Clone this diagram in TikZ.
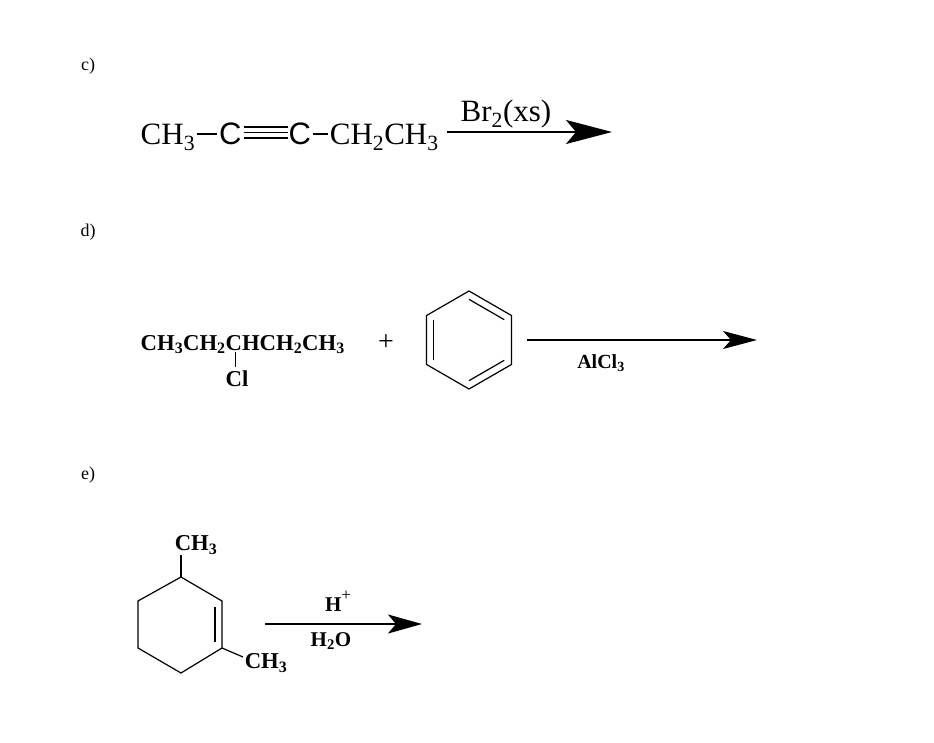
\documentclass[tikz,border=0pt]{standalone}
\usepackage{fontspec}
\setmainfont{Liberation Serif}
\newfontfamily\arial{Liberation Sans}
\usetikzlibrary{arrows.meta,calc}
\newcommand{\lsub}[1]{\textsubscript{#1}}
\begin{document}
\begin{tikzpicture}[x=1pt,y=-1pt,line width=1.4pt,
  lbl/.style={inner sep=0pt,font=\fontsize{18}{20}\selectfont},
  txc/.style={inner sep=0pt,font=\fontsize{31}{32}\selectfont},
  txb/.style={inner sep=0pt,font=\fontsize{22.7}{24}\selectfont\bfseries}]
\useasboundingbox (0,0) rectangle (934,743);
\node[lbl] (lc) at (88,66) {c)};
\node[lbl] (ld) at (88,232) {d)};
\node[lbl] (le) at (88,475) {e)};
% c
\node[txc,anchor=base west] (cm) at (140,145) {CH\lsub{3}\kern2pt\raisebox{0.33em}{\rule{20pt}{1.5pt}}\kern2pt{\arial C}\kern2pt\raisebox{0.1em}{\rule[3pt]{44pt}{1.4pt}\kern-44pt\rule[8.5pt]{44pt}{1.4pt}\kern-44pt\rule[14pt]{44pt}{1.4pt}}\kern1pt{\arial C}\kern2pt\raisebox{0.33em}{\rule{15pt}{1.5pt}}\kern2pt CH\lsub{2}CH\lsub{3}};
\coordinate (c1) at (447,132); \coordinate (c2) at (612,132);
\draw[line width=2.2pt,-{Stealth[length=46pt,width=24pt,inset=10pt]}] (c1) -- (c2);
\node[txc,anchor=base] (br) at (506,122) {Br\lsub{2}(xs)};
% d
\node[txb,anchor=base west] (dm) at (140,350) {CH\lsub{3}CH\lsub{2}CHCH\lsub{2}CH\lsub{3}};
\node[txb] (cl) at (237,379) {Cl};
\draw[line width=1pt] (235,352) -- (235,367);
\node[inner sep=0pt,font=\fontsize{28}{28}\selectfont] (plus) at (386,343) {+};
\foreach \i in {0,...,5} \coordinate (b\i) at ({469+49*cos(90+60*\i)},{340-49*sin(90+60*\i)});
\coordinate (bc) at (469,340);
\draw[line width=1.2pt] (b0)--(b1)--(b2)--(b3)--(b4)--(b5)--cycle;
\draw[line width=1.2pt] ($(bc)!0.83!(b1)$) -- ($(bc)!0.83!(b2)$);
\draw[line width=1.2pt] ($(bc)!0.83!(b3)$) -- ($(bc)!0.83!(b4)$);
\draw[line width=1.2pt] ($(bc)!0.83!(b5)$) -- ($(bc)!0.83!(b0)$);
\coordinate (d1) at (527,340); \coordinate (d2) at (757,340);
\draw[line width=1.6pt,-{Stealth[length=34pt,width=18pt,inset=8pt]}] (d1) -- (d2);
\node[txb,font=\fontsize{20}{20}\selectfont\bfseries] (al) at (601,363) {AlCl\lsub{3}};
% e
\coordinate (r0) at (181,577); \coordinate (r1) at (222,601); \coordinate (r2) at (222,648);
\coordinate (r3) at (181,673); \coordinate (r4) at (138,648); \coordinate (r5) at (138,601);
\draw[line width=1.2pt] (r0)--(r1)--(r2)--(r3)--(r4)--(r5)--cycle;
\draw[line width=1.2pt] (215,607) -- (215,642);
\node[txb] (m1) at (196,545) {CH\lsub{3}};
\node[txb] (m2) at (266,663) {CH\lsub{3}};
\draw[line width=1.2pt] (r0) -- (181,555);
\draw[line width=1.2pt] (r2) -- (243,657);
\coordinate (e1) at (265,624); \coordinate (e2) at (422,624);
\draw[line width=1.6pt,-{Stealth[length=34pt,width=19pt,inset=8pt]}] (e1) -- (e2);
\node[txb,font=\fontsize{21}{20}\selectfont\bfseries] (hp) at (338,601) {H\raisebox{0.55em}{\fontsize{17}{17}\selectfont\mdseries +}};
\node[txb,font=\fontsize{21}{20}\selectfont\bfseries] (hw) at (331,641) {H\lsub{2}O};
\end{tikzpicture}
\end{document}
